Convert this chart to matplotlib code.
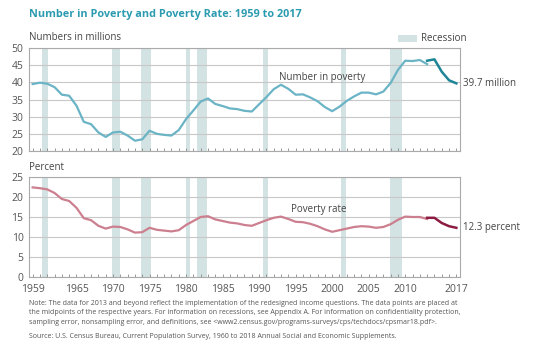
import matplotlib.pyplot as plt
from matplotlib.patches import Rectangle

plt.rcParams["font.family"] = ["Open Sans", "DejaVu Sans"]

years = list(range(1959, 2014))
number_old = [39.5, 39.9, 39.6, 38.6, 36.4, 36.1, 33.2, 28.5, 27.8, 25.4,
              24.1, 25.4, 25.6, 24.5, 23.0, 23.4, 25.9, 25.0, 24.7, 24.5,
              26.1, 29.3, 31.8, 34.4, 35.3, 33.7, 33.1, 32.4, 32.2, 31.7,
              31.5, 33.6, 35.7, 38.0, 39.3, 38.1, 36.4, 36.5, 35.6, 34.5,
              32.8, 31.6, 32.9, 34.6, 35.9, 37.0, 37.0, 36.5, 37.3, 39.8,
              43.6, 46.3, 46.2, 46.5, 45.3]
rate_old = [22.4, 22.2, 21.9, 21.0, 19.5, 19.0, 17.3, 14.7, 14.2, 12.8,
            12.1, 12.6, 12.5, 11.9, 11.1, 11.2, 12.3, 11.8, 11.6, 11.4,
            11.7, 13.0, 14.0, 15.0, 15.2, 14.4, 14.0, 13.6, 13.4, 13.0,
            12.8, 13.5, 14.2, 14.8, 15.1, 14.5, 13.8, 13.7, 13.3, 12.7,
            11.9, 11.3, 11.7, 12.1, 12.5, 12.7, 12.6, 12.3, 12.5, 13.2,
            14.3, 15.1, 15.0, 15.0, 14.5]

years_new = [2013, 2014, 2015, 2016, 2017]
number_new = [46.3, 46.7, 43.1, 40.6, 39.7]
rate_new = [14.8, 14.8, 13.5, 12.7, 12.3]

recessions = [(1960.25, 1961.1), (1969.9, 1970.9), (1973.9, 1975.2),
              (1980.0, 1980.5), (1981.5, 1982.9), (1990.5, 1991.2),
              (2001.2, 2001.9), (2007.9, 2009.5)]

xtick_years = [1959, 1965, 1970, 1975, 1980, 1985, 1990, 1995, 2000, 2005, 2010, 2017]

TEAL = "#2b9bb0"
REC = "#d3e2e2"
GRID = "#c8c8c8"
TXT = "#555555"


def style_axes(ax, ylim, step):
    ax.set_xlim(1959, 2018)
    ax.set_ylim(*ylim)
    ax.set_yticks(range(ylim[0], ylim[1] + 1, step))
    ax.yaxis.grid(True, color=GRID, lw=0.8)
    ax.set_axisbelow(True)
    for s in ax.spines.values():
        s.set_color("#aaaaaa")
        s.set_linewidth(0.8)
    ax.tick_params(axis="y", length=0, labelsize=7.5, labelcolor=TXT, pad=4)
    ax.set_xticks([y + 0.5 for y in range(1959, 2018)])
    ax.tick_params(axis="x", direction="in", length=2.5, color="#888888", width=0.6)
    for a, b in recessions:
        ax.axvspan(a + 0.5, b + 0.5, color=REC, lw=0, zorder=0)


fig = plt.figure(figsize=(5.46, 3.6), dpi=100)

ax1 = fig.add_axes([29 / 546, 209 / 360, 431 / 546, 103 / 360])
style_axes(ax1, (20, 50), 5)
ax1.set_xticklabels([])
x_old = [y + 0.5 for y in years]
x_new = [y + 0.5 for y in years_new]
ax1.plot(x_old, number_old, color="#6bb4c6", lw=1.6, zorder=3)
ax1.plot(x_new, number_new, color="#1e8598", lw=1.8, zorder=3)
ax1.text(1999.1, 41.5, "Number in poverty", fontsize=7, color="#444444", ha="center", va="center")
ax1.text(2018.4, 39.7, "39.7 million", fontsize=7, color="#444444", ha="left", va="center")

ax2 = fig.add_axes([29 / 546, 83 / 360, 431 / 546, 100 / 360])
style_axes(ax2, (0, 25), 5)
ax2.set_xticklabels(
    [str(y) if y in xtick_years else "" for y in range(1959, 2018)],
    fontsize=7.5, color=TXT)
ax2.tick_params(axis="x", pad=5)
ax2.plot(x_old, rate_old, color="#cc7f8e", lw=1.6, zorder=3)
ax2.plot(x_new, rate_new, color="#8c1c43", lw=1.8, zorder=3)
ax2.text(1998.7, 16.8, "Poverty rate", fontsize=7, color="#444444", ha="center", va="center")
ax2.text(2018.4, 12.3, "12.3 percent", fontsize=7, color="#444444", ha="left", va="center")

fig.text(29 / 546, 1 - 14 / 360, "Number in Poverty and Poverty Rate: 1959 to 2017",
         fontsize=7.8, fontweight="bold", color=TEAL, va="center")
fig.text(29 / 546, 1 - 38 / 360, "Numbers in millions", fontsize=7, color="#444444", va="center")
fig.text(29 / 546, 1 - 168 / 360, "Percent", fontsize=7, color="#444444", va="center")
fig.patches.append(Rectangle((398 / 546, 1 - 42 / 360), 19 / 546, 7 / 360,
                             transform=fig.transFigure, color=REC, lw=0))
fig.text(421 / 546, 1 - 38.5 / 360, "Recession", fontsize=7, color="#444444", va="center")

note = ("Note: The data for 2013 and beyond reflect the implementation of the redesigned income questions. "
        "The data points are placed at\nthe midpoints of the respective years. For information on recessions, "
        "see Appendix A. For information on confidentiality protection,\nsampling error, nonsampling error, "
        "and definitions, see <www2.census.gov/programs-surveys/cps/techdocs/cpsmar18.pdf>.")
fig.text(29 / 546, 1 - 300 / 360, note, fontsize=5.0, color="#555555", va="top", linespacing=1.5)
fig.text(29 / 546, 1 - 336 / 360,
         "Source: U.S. Census Bureau, Current Population Survey, 1960 to 2018 Annual Social and Economic Supplements.",
         fontsize=5.0, color="#555555", va="center")

fig.savefig("out.png", dpi=100)
